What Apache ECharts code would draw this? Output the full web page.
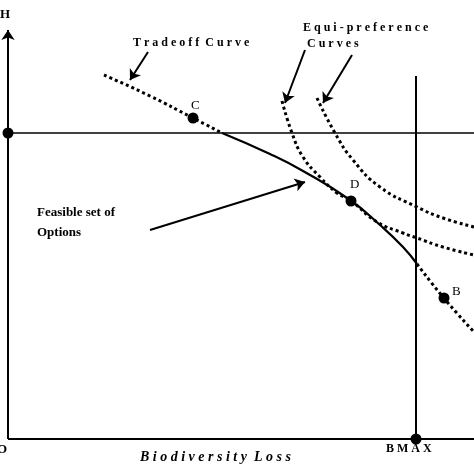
<!DOCTYPE html>
<html>
<head>
<meta charset="utf-8" />
<title>Tradeoff curve</title>
<script src="https://cdn.jsdelivr.net/npm/echarts@6/dist/echarts.min.js"></script>
<style>html,body{margin:0;background:#fff}#main{width:474px;height:474px}</style>
</head>
<body>
<div id="main"></div>
<script>
// coordinates in picture units (x right, y down)
var tradeoffLeft = [[104, 75], [150, 96], [193, 118], [222, 133]];
var feasible = [[222, 133], [270, 154], [303, 171], [350, 200], [380, 225], [403, 247], [417, 264]];
var tradeoffRight = [[417, 264], [443, 297], [474, 332]];
var equiPref1 = [[282, 101], [292, 133], [303, 157], [320, 177], [337, 193], [350, 200], [377, 222], [403, 233], [417, 238], [443, 247], [474, 255]];
var equiPref2 = [[317, 98], [335, 133], [353, 160], [380, 187], [417, 207], [443, 218], [474, 227]];
var points = [[8, 133], [193, 118], [351, 201], [444, 298], [416, 439]];
var arrows = [
    [[148, 52], [130, 80]],
    [[305, 50], [285, 103]],
    [[352, 55], [323, 103]],
    [[150, 230], [305, 182]]
];

var chart = echarts.init(document.getElementById('main'));
var serif = 'Liberation Serif';
function line(data, type, w) {
    return {
        type: 'line', data: data, smooth: true, symbol: 'none', silent: true,
        lineStyle: { color: '#000', width: w, type: type }
    };
}
function txt(x, y, s, font) {
    return { type: 'text', x: x, y: y, style: { text: s, font: font || 'bold 13px ' + serif, fill: '#000' } };
}
chart.setOption({
    animation: false,
    grid: { left: 0, right: 0, top: 0, bottom: 0 },
    xAxis: { type: 'value', min: 0, max: 474, show: false },
    yAxis: { type: 'value', min: 0, max: 474, inverse: true, show: false },
    series: [
        // axes and reference lines
        line([[8, 439], [474, 439]], 'solid', 2),
        line([[8, 133], [474, 133]], 'solid', 1.5),
        line([[416, 76], [416, 439]], 'solid', 2),
        {
            type: 'lines', coordinateSystem: 'cartesian2d', silent: true,
            symbol: ['none', 'arrow'], symbolSize: 10,
            lineStyle: { color: '#000', width: 2, opacity: 1 },
            data: [{ coords: [[8, 439], [8, 30]] }].concat(arrows.map(function (a) { return { coords: a }; }))
        },
        line(tradeoffLeft, 'dotted', 3),
        line(feasible, 'solid', 2.2),
        line(tradeoffRight, 'dotted', 3),
        line(equiPref1, 'dotted', 3),
        line(equiPref2, 'dotted', 3),
        {
            type: 'scatter', data: points, symbolSize: 11, silent: true,
            itemStyle: { color: '#000', opacity: 1 }
        }
    ],
    graphic: [
        txt(0, 8, 'H'),
        txt(-3, 443, 'O'),
        txt(133, 37, 'T r a d e o f f  C u r v e', 'bold 12px ' + serif),
        txt(303, 22, 'E q u i - p r e f e r e n c e', 'bold 12px ' + serif),
        txt(307, 38, 'C u r v e s', 'bold 12px ' + serif),
        txt(191, 99, 'C', '13px ' + serif),
        txt(350, 178, 'D', '13px ' + serif),
        txt(452, 285, 'B', '13px ' + serif),
        txt(37, 206, 'Feasible set of'),
        txt(37, 226, 'Options'),
        txt(386, 443, 'B M A X', 'bold 12px ' + serif),
        txt(140, 450, 'B i o d i v e r s i t y  L o s s', 'italic bold 14px ' + serif)
    ]
});
</script>
</body>
</html>
